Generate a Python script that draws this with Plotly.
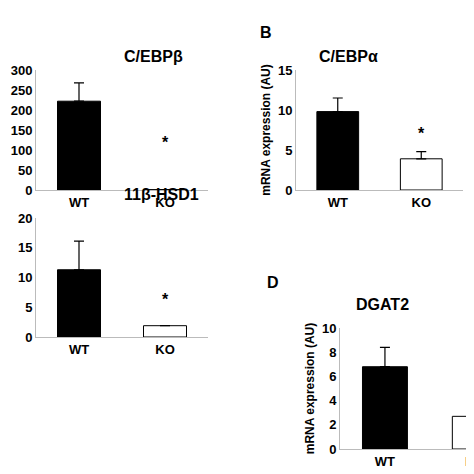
import plotly.graph_objects as go

groups = ["WT", "KO"]

cebpb_mean = [222, 1]
cebpb_err = [46, 0]
cebpa_mean = [9.8, 3.9]
cebpa_err = [1.7, 0.9]
hsd_mean = [11.3, 1.9]
hsd_err = [4.8, 0]
dgat_mean = [6.8, 2.7]
dgat_err = [1.6, 1.1]

W = 474
fnt = "Liberation Sans, Arial, sans-serif"

def px(a, b):
    return [a / W, b / W]

def py(lo, hi):
    # lo, hi are pixel rows of bottom and top
    return [1 - lo / W, 1 - hi / W]

panels = [
    # title, mean, err, xdomain, ydomain, yrange, dtick, xrange, ytitle, star_y
    ("C/EBP\u03b2", cebpb_mean, cebpb_err, px(28, 200), py(182, 62), [0, 300], 50, [-0.5, 1.5], False, 92),
    ("C/EBP\u03b1", cebpa_mean, cebpa_err, px(288, 455), py(182, 62), [0, 15], 5, [-0.5, 1.5], True, 5.8),
    ("11\u03b2-HSD1", hsd_mean, hsd_err, px(28, 200), py(329, 210), [0, 20], 5, [-0.5, 1.5], False, 4.6),
    ("DGAT2", dgat_mean, dgat_err, px(332, 474), py(441, 320), [0, 10], 2, [-0.5, 1.08], True, 4.6),
]

fig = go.Figure()
annos = []
for i, (title, mean, err, xd, yd, yr, dt, xr, ytit, star) in enumerate(panels):
    n = "" if i == 0 else str(i + 1)
    fig.add_trace(go.Bar(
        x=groups, y=mean, xaxis="x" + n, yaxis="y" + n, width=0.5,
        marker=dict(color=["black", "white"], line=dict(color="black", width=1)),
        error_y=dict(type="data", array=err, arrayminus=[0, 0], symmetric=False,
                     color="black", thickness=1.2, width=5),
        showlegend=False,
    ))
    fig.layout["xaxis" + n] = dict(domain=xd, anchor="y" + n, range=xr, showline=True, automargin=False,
                                   linecolor="#bbbbbb", ticks="", showgrid=False,
                                   tickvals=groups, ticktext=["<b>WT</b>", "<b>KO</b>"],
                                   tickfont=dict(family=fnt, size=13, color="black"))
    fig.layout["yaxis" + n] = dict(domain=yd, anchor="x" + n, range=yr, dtick=dt, showline=True,
                                   automargin=False, tickprefix="<b>", ticksuffix="</b>",
                                   linecolor="#bbbbbb", ticks="", showgrid=False, zeroline=False,
                                   tickfont=dict(family=fnt, size=13, color="black"),
                                   title=dict(text="<b>mRNA expression (AU)</b>" if ytit else "",
                                              font=dict(family=fnt, size=12, color="black"),
                                              standoff=4))
    annos.append(dict(text="<b>" + title + "</b>", xref="paper", yref="paper",
                      x=(xd[0] + min(xd[1], xd[0] + 172 / W)) / 2, y=yd[1] + 0.05,
                      showarrow=False, font=dict(family=fnt, size=16, color="black")))
    annos.append(dict(text="<b>*</b>", xref="x" + n, yref="y" + n, x="KO", y=star,
                      showarrow=False, yanchor="bottom", font=dict(family=fnt, size=16, color="black")))

annos.append(dict(text="<b>B</b>", xref="paper", yref="paper", x=258 / W, y=1 - 14 / W,
                  showarrow=False, font=dict(family=fnt, size=16, color="black")))
annos.append(dict(text="<b>D</b>", xref="paper", yref="paper", x=265 / W, y=1 - 274 / W,
                  showarrow=False, font=dict(family=fnt, size=16, color="black")))

fig.update_layout(width=W, height=W, margin=dict(l=0, r=0, t=0, b=0, autoexpand=False),
                  plot_bgcolor="white", paper_bgcolor="white", annotations=annos)

fig.write_html("out.html")
